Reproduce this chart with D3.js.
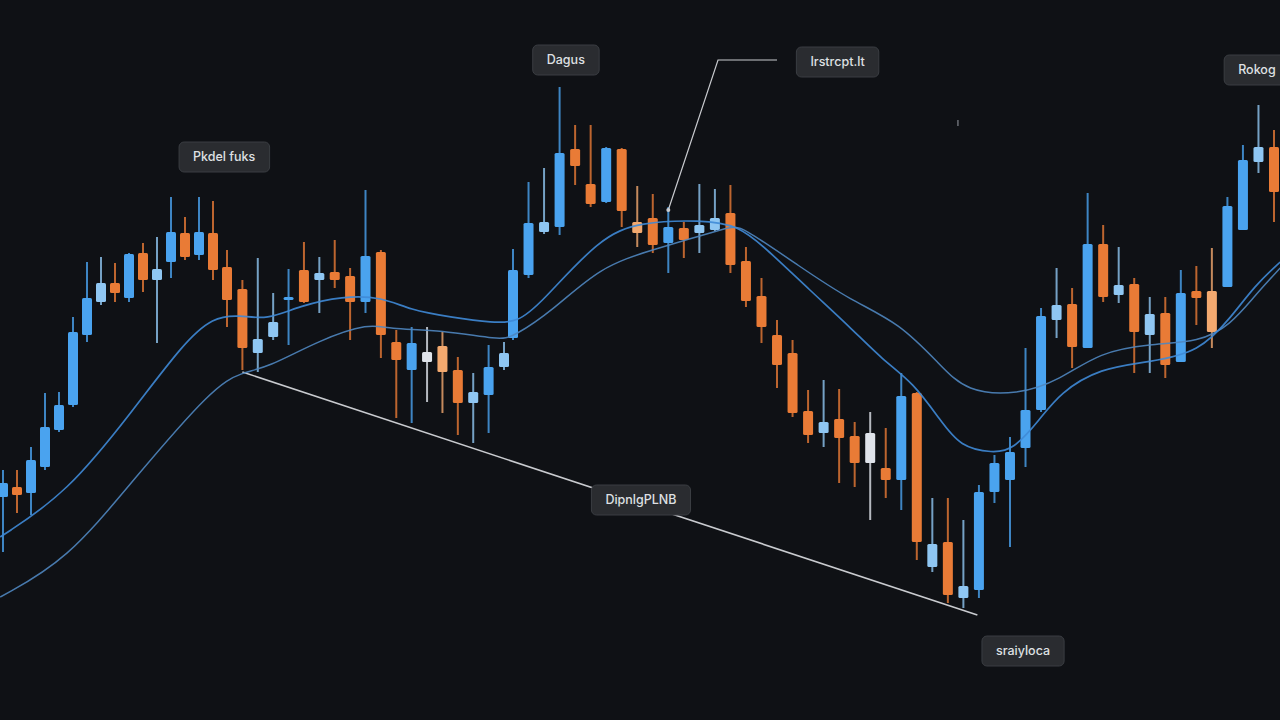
<!DOCTYPE html>
<html><head><meta charset="utf-8">
<script src="https://cdn.jsdelivr.net/npm/d3@7"></script>
<style>html,body{margin:0;padding:0;background:#0f1115;overflow:hidden}</style>
</head><body><svg id="c" width="1280" height="720"></svg>
<script>
// ---- data (price units) ----
const opens = [22.3,23.3,22.7,25.3,29.0,31.5,38.5,41.8,43.7,42.2,
46.7,44.0,45.8,48.7,46.5,48.7,45.3,43.1,36.7,38.3,
42.0,45.0,44.0,44.8,44.4,41.8,46.8,37.8,35.0,35.8,
37.4,35.0,31.7,32.5,35.3,38.2,44.5,48.8,49.3,57.1,
53.6,51.8,57.1,49.8,50.2,47.7,49.2,48.7,49.0,50.7,
45.9,42.4,38.5,36.7,30.9,28.7,30.1,28.4,25.7,25.2,
24.0,32.7,15.3,17.8,12.2,13.0,22.8,24.0,27.2,31.0,
40.0,41.6,37.2,47.6,42.5,43.6,38.5,40.7,35.8,42.9,
42.9,43.3,49.0,55.8,57.3];
const closes = [23.7,22.5,26.0,29.3,31.5,38.8,42.2,43.7,42.7,46.6,
44.0,45.1,48.8,46.3,48.8,45.0,42.0,37.2,38.1,39.8,
42.3,41.8,44.7,44.0,41.8,46.4,38.5,36.0,37.7,36.8,
34.8,31.7,32.8,35.3,36.7,45.0,49.7,49.8,56.7,55.4,
51.6,57.2,50.9,48.7,47.5,49.3,48.0,49.5,50.2,45.5,
41.9,39.3,35.5,30.7,28.5,29.8,28.2,25.7,28.7,24.0,
32.4,17.8,17.6,12.5,13.4,22.8,25.7,26.8,31.0,40.4,
41.5,37.3,47.6,42.3,43.5,38.8,40.6,35.5,42.7,42.2,
38.8,51.4,56.0,57.3,52.8];
const highs = [25.0,25.0,27.3,32.7,32.8,40.3,45.8,46.3,45.7,46.7,
47.7,48.3,52.3,50.3,52.3,51.9,47.0,44.0,46.2,42.7,
45.1,47.8,46.3,48.0,45.2,53.0,47.0,39.0,39.3,39.3,
38.8,36.3,34.7,37.5,37.8,47.1,53.8,55.2,63.3,59.5,
59.5,57.3,57.2,53.4,52.6,51.3,49.8,53.6,53.1,53.5,
47.3,44.2,40.0,38.0,33.0,34.0,33.1,29.8,30.8,29.2,
34.7,32.8,22.2,22.2,20.0,23.5,26.5,28.3,37.2,41.2,
45.2,43.2,52.7,49.5,47.3,44.2,42.3,42.3,45.0,45.4,
47.2,52.3,57.5,61.5,59.0];
const lows = [16.8,20.7,20.5,25.0,28.8,31.3,37.8,41.5,41.8,41.8,
42.8,37.7,44.2,46.0,46.0,44.0,39.3,35.0,34.8,38.0,
37.5,41.7,40.7,43.2,38.0,40.7,36.2,30.2,29.7,31.8,
30.7,28.5,27.7,28.7,35.0,38.0,44.2,48.6,48.5,53.5,
51.3,51.7,49.3,47.3,46.7,44.7,46.2,46.7,48.9,44.7,
41.3,37.7,33.2,30.3,27.7,27.3,23.7,23.3,20.0,22.2,
21.0,16.0,14.8,11.7,11.2,12.2,21.7,17.3,25.3,30.8,
38.2,35.2,37.2,41.8,41.7,34.7,34.7,34.2,35.8,39.5,
37.2,43.3,49.0,54.7,49.8];
// 0 = firm, 1 = weak, 2 = indecision
const conviction = [0,0,0,0,0,0,0,1,0,0,
0,1,0,0,0,0,0,0,1,1,
0,0,1,0,0,0,0,0,0,2,
1,0,1,0,1,0,0,1,0,0,
0,0,0,1,0,0,0,1,1,0,
0,0,0,0,0,1,0,0,2,0,
0,0,1,0,1,0,0,0,0,0,
1,0,0,0,1,0,1,0,0,0,
1,0,0,1,0];
// moving averages: [candle index, price]
const maFast = [[-0.2,18.3],[4.6,22.7],[9.3,31.0],[12.9,37.7],[15,40.3],[16.8,40.5],[18.6,40.0],
[20.7,41.4],[23.5,42.4],[26.1,42.3],[27.9,41.0],[30.5,40.3],[33.3,39.7],[35.3,39.8],[36.7,41.5],
[40.6,48.3],[43.2,49.8],[47.1,50.0],[49.5,49.5],[51.4,47.0],[54.1,43.0],[56.7,39.3],[58.8,36.0],
[60.8,33.7],[62.5,30.0],[63.8,27.3],[65.9,26.7],[67.2,27.0],[68.9,30.0],[70.2,32.7],[72.8,35.2],
[76.0,35.8],[79.2,36.8],[81.2,40.2],[82.8,43.5],[84.4,45.8]];
const maSlow = [[-0.2,12.3],[4.6,16.0],[9.3,24.0],[15,33.3],[17,34.8],[18.6,35.2],[22,38.0],
[25.3,39.7],[26.4,39.1],[30,39.0],[33.7,38.0],[35,38.3],[37.6,41.0],[40.6,45.3],[43.9,47.0],
[49,49.3],[49.6,49.5],[53.5,45.3],[56.7,42.0],[59.9,39.7],[62.5,35.5],[64.2,32.8],[67.5,32.5],
[70.2,34.0],[72.8,36.8],[76,37.6],[79.2,37.8],[81.2,39.5],[82.8,42.5],[84.4,45.2]];
const trendLine = [[17,34.8],[64.9,10.5]];
const callout = [[45.0,51.0],[48.2,66.0],[52.0,66.0]];
const marker = [63.6,60.0];
const labelText = ["Pkdel fuks","Dagus","Irstrcpt.lt","DipnlgPLNB","sraiyloca","Rokog"];
const labelIdx = [15.8,38.4,55.9,43.24,67.84,82.9];
const labelPrice = [56.3,66.0,65.8,22.0,6.9,65.0];

// ---- scales ----
const W = 1280, H = 720;
const svg = d3.select("#c");
svg.append("rect").attr("width",W).attr("height",H).attr("fill","#0f1115");
const x = d3.scaleLinear().domain([0,16,34,35,84]).range([3,227,504,513,1274]);
const y = d3.scaleLinear().domain([0,72]).range([H,0]);

const candles = opens.map((o,i)=>({i,o,c:closes[i],h:highs[i],l:lows[i],k:conviction[i]}));
const col = d => {
  if (d.k===2) return "#dfe3ea";
  const up = d.c>=d.o;
  if (d.k===1) return up ? "#8fc6f2" : "#f3a96f";
  return up ? "#4aa3ef" : "#e97b36";
};

// trend line
const line = d3.line().x(d=>x(d[0])).y(d=>y(d[1]));
svg.append("path").datum(trendLine).attr("d",line)
  .attr("stroke","#c9cbcf").attr("stroke-width",1.6).attr("fill","none");

// candles
const g = svg.append("g");
g.selectAll("line.w").data(candles).join("line")
  .attr("x1",d=>x(d.i)).attr("x2",d=>x(d.i))
  .attr("y1",d=>y(d.h)).attr("y2",d=>y(d.l))
  .attr("stroke",col).attr("stroke-width",2).attr("opacity",0.8);
g.selectAll("rect.b").data(candles).join("rect")
  .attr("x",d=>x(d.i)-5).attr("width",10)
  .attr("y",d=>y(Math.max(d.o,d.c)))
  .attr("height",d=>Math.max(2,Math.abs(y(d.o)-y(d.c))))
  .attr("rx",1.5).attr("fill",col);

// moving averages
const curve = d3.line().curve(d3.curveBasis).x(d=>x(d[0])).y(d=>y(d[1]));
svg.append("path").datum(maSlow).attr("d",curve)
  .attr("stroke","#4f86bf").attr("stroke-width",1.5).attr("fill","none").attr("opacity",0.9);
svg.append("path").datum(maFast).attr("d",curve)
  .attr("stroke","#3f8ad6").attr("stroke-width",1.7).attr("fill","none").attr("opacity",0.9);

// callout
svg.append("path").datum(callout).attr("d",line)
  .attr("stroke","#c9cbcf").attr("stroke-width",1.2).attr("fill","none");
svg.append("circle").attr("cx",x(callout[0][0])).attr("cy",y(callout[0][1])).attr("r",2).attr("fill","#c9cbcf");
svg.append("rect").attr("x",x(marker[0])).attr("y",y(marker[1])).attr("width",1.5).attr("height",6).attr("fill","#6b6e75");

// labels
const lg = svg.append("g").selectAll("g").data(labelText).join("g")
  .attr("transform",(d,i)=>`translate(${x(labelIdx[i])},${y(labelPrice[i])})`);
lg.append("text").text(d=>d)
  .attr("text-anchor","middle").attr("dy","0.35em")
  .attr("font-family","Inter, 'DejaVu Sans', sans-serif").attr("font-size",12.5)
  .attr("font-weight",500).attr("fill","#dfe0e3");
lg.each(function(){
  const t = d3.select(this).select("text");
  const bb = t.node().getBBox();
  d3.select(this).insert("rect","text")
    .attr("x",bb.x-14).attr("y",-15).attr("width",bb.width+28).attr("height",30)
    .attr("rx",5).attr("fill","#2a2c30").attr("stroke","#3a3d42").attr("stroke-width",1);
});
</script></body></html>
